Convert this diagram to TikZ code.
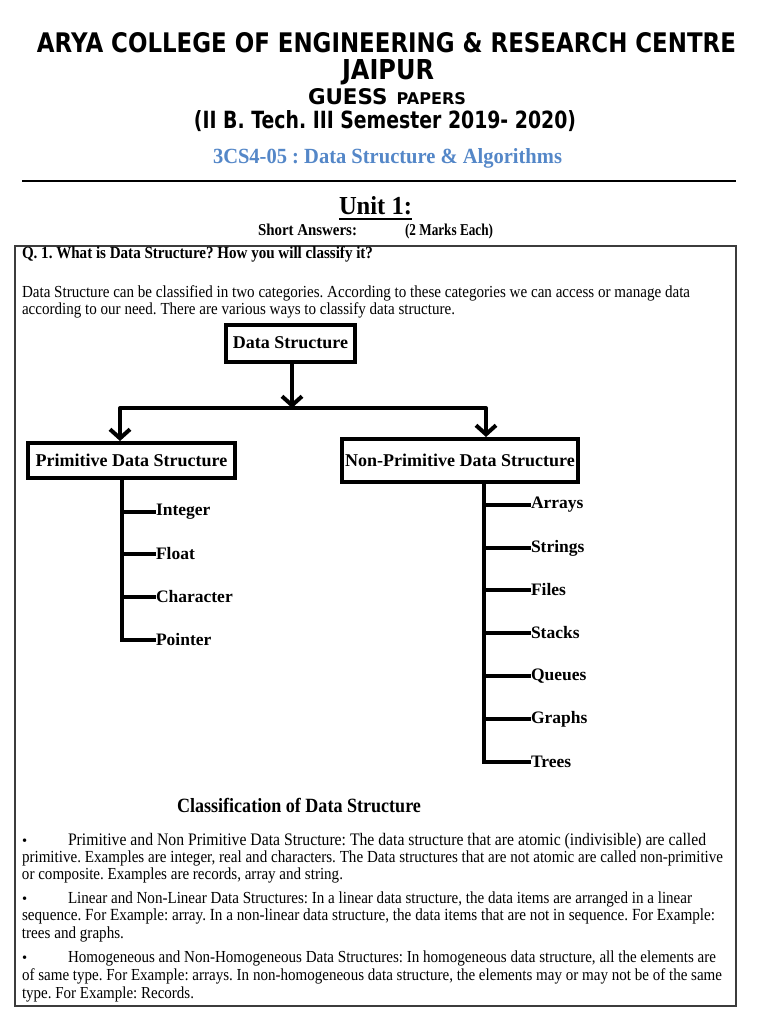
\documentclass[tikz,border=0pt]{standalone}
\usepackage{fontspec}
\setmainfont{Liberation Serif}
\newfontfamily\hdrfont{DejaVu Sans}
\usetikzlibrary{arrows.meta}
\definecolor{titleblue}{RGB}{84,135,200}
\definecolor{framegray}{RGB}{60,60,60}
\newcommand\fitw[2]{\scalebox{1}[1.12]{\resizebox{#1}{!}{#2}}}
\newcommand\fitwh[3]{\resizebox{#1}{#2}{#3}}
\frenchspacing
\begin{document}
\begin{tikzpicture}[x=1pt,y=-1pt,
  hdr/.style={inner sep=0pt, outer sep=0pt, anchor=base, font=\hdrfont\bfseries\fontsize{27}{27}\selectfont},
  ttl/.style={inner sep=0pt, outer sep=0pt, anchor=base, font=\bfseries\fontsize{18}{18}\selectfont},
  txt/.style={inner sep=0pt, outer sep=0pt, anchor=base west, font=\fontsize{14.5}{17}\selectfont},
  btxt/.style={txt, font=\bfseries\fontsize{14.5}{17}\selectfont},
  dsbox/.style={draw, line width=4pt, inner sep=0pt, font=\bfseries\fontsize{18}{18}\selectfont},
  conn/.style={line width=4pt},
  barbtip/.style={-{Straight Barb[length=9pt,width=20pt]}},
  leaf/.style={inner sep=0pt, outer sep=0pt, anchor=west, font=\bfseries\fontsize{17.5}{17.5}\selectfont}
]
\fill[white] (0,0) rectangle (768,1024);
\useasboundingbox (0,0) rectangle (768,1024);

% ---------- header ----------
\node[hdr] (h1) at (386.5,53) {\fitwh{699pt}{20pt}{ARYA COLLEGE OF ENGINEERING \& RESEARCH CENTRE}};
\node[hdr] (h2) at (388,80) {\fitwh{92pt}{20pt}{JAIPUR}};
\node[hdr] (h3) at (387,105) {\fitwh{158pt}{16pt}{{\fontsize{22}{22}\selectfont GUESS} {\fontsize{16.5}{16.5}\selectfont PAPERS}}};
\node[hdr] (h4) at (385,129) {\fitwh{382pt}{18pt}{(II B. Tech. III Semester 2019- 2020)}};
\node[ttl, text=titleblue] (h5) at (387.5,164) {\fitwh{349pt}{15pt}{3CS4-05 : Data Structure \& Algorithms}};
\draw[line width=2.5pt] (22,181) -- (736,181);
\node[ttl, anchor=base west] (unit) at (339,215) {\fitwh{73pt}{18pt}{Unit 1:}};
\draw[line width=1.6pt] (unit.base west) ++(0,4) -- ++(73,0);
\node[btxt] (sa) at (258,236) {\fitwh{99pt}{11.5pt}{Short Answers:}};
\node[btxt] (me) at (405,236) {\fitwh{88pt}{11.5pt}{(2 Marks Each)}};

% ---------- frame ----------
\draw[framegray, line width=1.2pt] (15,246) rectangle (736,1006);

\node[btxt] (q1) at (22,258) {\fitwh{351pt}{12pt}{Q. 1. What is Data Structure? How you will classify it?}};
\node[txt] (p1) at (22,297) {\fitw{668pt}{Data Structure can be classified in two categories. According to these categories we can access or manage data}};
\node[txt] (p2) at (22,314) {\fitw{433pt}{according to our need. There are various ways to classify data structure.}};

% ---------- diagram ----------
\node[dsbox, minimum width=129pt, minimum height=37pt] (ds) at (290.5,343) {Data Structure};
\node[dsbox, minimum width=207pt, minimum height=35pt] (prim) at (131.5,460.5) {Primitive Data Structure};
\node[dsbox, minimum width=236pt, minimum height=43pt] (nonp) at (460,460.5) {Non-Primitive Data Structure};

\coordinate (j) at (292,408);
\coordinate (jl) at (120,408);
\coordinate (jr) at (486,408);
\draw[conn, barbtip] (j |- ds.south) -- (j);
\draw[conn, line cap=round] (jl) -- (jr);
\draw[conn, barbtip] (jl) -- (jl |- prim.north);
\draw[conn, barbtip] (jr) -- (jr |- nonp.north);

% primitive leaves
\node[leaf] (int) at (156,512) {Integer};
\node[leaf] (flo) at (156,554) {Float};
\node[leaf] (cha) at (156,597) {Character};
\node[leaf] (poi) at (156,640) {Pointer};
\coordinate (tl) at (122,0);
\draw[conn] (tl |- prim.south) -- (tl |- poi.west) -- (poi.west);
\foreach \n in {int,flo,cha} \draw[conn] (tl |- \n.west) -- (\n.west);

% non-primitive leaves
\node[leaf] (arr) at (531,505) {Arrays};
\node[leaf] (str) at (531,548) {Strings};
\node[leaf] (fil) at (531,590) {Files};
\node[leaf] (sta) at (531,633) {Stacks};
\node[leaf] (que) at (531,676) {Queues};
\node[leaf] (gra) at (531,719) {Graphs};
\node[leaf] (tre) at (531,762) {Trees};
\coordinate (tr) at (484,0);
\draw[conn] (tr |- nonp.south) -- (tr |- tre.west) -- (tre.west);
\foreach \n in {arr,str,fil,sta,que,gra} \draw[conn] (tr |- \n.west) -- (\n.west);

% ---------- text below ----------
\node[btxt, font=\bfseries\fontsize{16}{18}\selectfont] (cap) at (177,812) {\fitw{244pt}{Classification of Data Structure}};

\node[txt] (b1) at (22,845) {\textbullet};
\node[txt] (b1a) at (68,845) {\fitw{638pt}{Primitive and Non Primitive Data Structure: The data structure that are atomic (indivisible) are called}};
\node[txt] (b1b) at (22,862) {\fitw{701pt}{primitive. Examples are integer, real and characters. The Data structures that are not atomic are called non-primitive}};
\node[txt] (b1c) at (22,879) {\fitw{321pt}{or composite. Examples are records, array and string.}};

\node[txt] (b2) at (22,903) {\textbullet};
\node[txt] (b2a) at (68,903) {\fitw{624pt}{Linear and Non-Linear Data Structures: In a linear data structure, the data items are arranged in a linear}};
\node[txt] (b2b) at (22,920) {\fitw{693pt}{sequence. For Example: array. In a non-linear data structure, the data items that are not in sequence. For Example:}};
\node[txt] (b2c) at (22,938) {\fitw{102pt}{trees and graphs.}};

\node[txt] (b3) at (22,962) {\textbullet};
\node[txt] (b3a) at (68,962) {\fitw{648pt}{Homogeneous and Non-Homogeneous Data Structures: In homogeneous data structure, all the elements are}};
\node[txt] (b3b) at (22,980) {\fitw{700pt}{of same type. For Example: arrays. In non-homogeneous data structure, the elements may or may not be of the same}};
\node[txt] (b3c) at (22,998) {\fitw{172pt}{type. For Example: Records.}};
\end{tikzpicture}
\end{document}
